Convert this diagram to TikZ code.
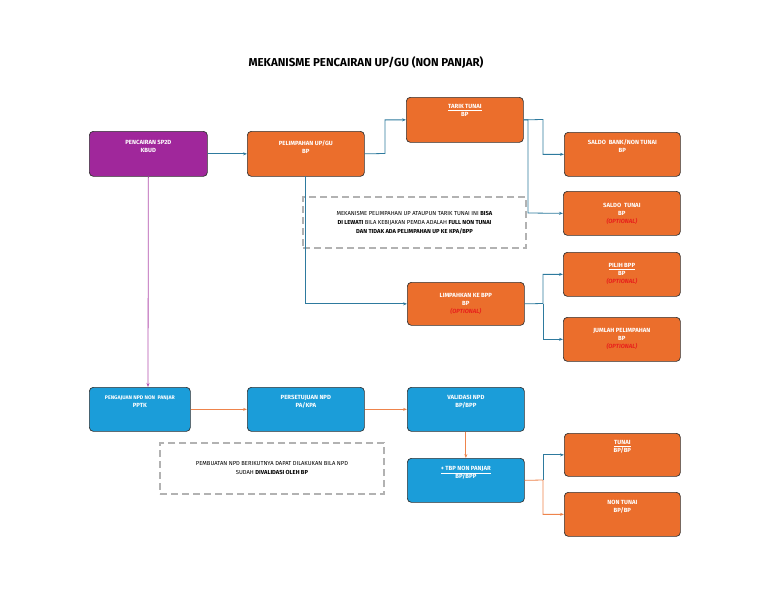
\documentclass[tikz,border=0pt]{standalone}
\usepackage{fontspec}
\setmainfont{Fira Sans}
\usetikzlibrary{arrows.meta}
\definecolor{org}{HTML}{EB6E2C}
\definecolor{blu}{HTML}{1B9DD9}
\definecolor{pur}{HTML}{A0279B}
\definecolor{ln}{HTML}{2E7A9E}
\definecolor{opt}{HTML}{E8231C}
\begin{document}
\begin{tikzpicture}[x=1pt,y=-1pt,
 box/.style={draw=black!80,line width=0.7pt,rounded corners=4pt,anchor=north west,inner sep=0pt,align=center,text=white,font=\fontsize{6}{8}\selectfont\bfseries},
 ob/.style={box,fill=org},
 bb/.style={box,fill=blu},
 note/.style={draw=gray!60,dashed,dash pattern=on 7pt off 4pt,line width=2pt,anchor=north west,inner sep=0pt,align=center,font=\fontsize{5.8}{9}\selectfont},
 c/.style={draw=ln,line width=0.8pt,-{Stealth[length=4pt]}},
 co/.style={draw=org!85,line width=0.8pt,-{Stealth[length=4pt]}},
 op/.style={text=opt,font=\fontsize{6}{8}\selectfont\bfseries\itshape}]
\useasboundingbox (0,0) rectangle (768,594);
\fill[white] (0,0) rectangle (768,594);
\node[font=\fontsize{11.5}{13}\selectfont\bfseries] (title) at (366,63) {MEKANISME PENCAIRAN UP/GU (NON PANJAR)};
\node[box,fill=pur,minimum width=118pt,minimum height=45pt] (kbud) at (89,131) {PENCAIRAN SP2D\\KBUD\\[6pt]};
\node[ob,minimum width=117pt,minimum height=45pt] (pel) at (247,131) {PELIMPAHAN UP/GU\\BP\\[6pt]};
\node[ob,minimum width=117pt,minimum height=45pt] (tarik) at (406,97) {\underline{TARIK TUNAI}\\BP\\[10pt]};
\node[ob,minimum width=116pt,minimum height=44pt] (sbank) at (564,132) {SALDO\ \ BANK/NON TUNAI\\BP\\[8pt]};
\node[ob,minimum width=117pt,minimum height=44pt] (stunai) at (563,191) {SALDO\ \ TUNAI\\BP\\{\color{opt}\itshape(OPTIONAL)}};
\node[note,minimum width=223pt,minimum height=51pt] (n1) at (302,196) {MEKANISME PELIMPAHAN UP ATAUPUN TARIK TUNAI INI \textbf{BISA}\\\textbf{DI LEWATI} BILA KEBIJAKAN PEMDA ADALAH \textbf{FULL NON TUNAI}\\\textbf{DAN TIDAK ADA PELIMPAHAN UP KE KPA/BPP}};
\node[ob,minimum width=117pt,minimum height=43pt] (limp) at (407,282) {LIMPAHKAN KE BPP\\BP\\{\color{opt}\itshape(OPTIONAL)}};
\node[ob,minimum width=117pt,minimum height=44pt] (pilih) at (563,252) {\underline{PILIH BPP}\\BP\\{\color{opt}\itshape(OPTIONAL)}};
\node[ob,minimum width=117pt,minimum height=44pt] (jml) at (563,317) {JUMLAH PELIMPAHAN\\BP\\{\color{opt}\itshape(OPTIONAL)}};
\node[bb,minimum width=101pt,minimum height=44pt,font=\fontsize{5.2}{8}\selectfont\bfseries] (peng) at (89,387) {PENGAJUAN NPD NON\ \ PANJAR\\{\fontsize{6}{8}\selectfont PPTK}\\[8pt]};
\node[bb,minimum width=117pt,minimum height=44pt] (pers) at (247,387) {PERSETUJUAN NPD\\PA/KPA\\[8pt]};
\node[bb,minimum width=117pt,minimum height=44pt] (val) at (407,387) {VALIDASI NPD\\BP/BPP\\[8pt]};
\node[note,minimum width=224pt,minimum height=51pt] (n2) at (159,442) {PEMBUATAN NPD BERIKUTNYA DAPAT DILAKUKAN BILA NPD\\SUDAH \textbf{DIVALIDASI OLEH BP}};
\node[bb,minimum width=117pt,minimum height=44pt] (tbp) at (407,458) {\underline{+ TBP NON PANJAR}\\BP/BPP\\[8pt]};
\node[ob,minimum width=116pt,minimum height=43pt] (tun) at (564,433) {\underline{TUNAI}\\BP/BP\\[8pt]};
\node[ob,minimum width=116pt,minimum height=44pt] (ntun) at (564,492) {NON TUNAI\\BP/BP\\[8pt]};
% connectors
\draw[c] (kbud) -- (pel);
\draw[c] (pel.east) -- (385,153.5) |- (tarik.west);
\draw[c] (tarik.east) -- (543,119.5) |- (sbank.west);
\draw[c] (tarik.east) ++(0,0) -| (528,213) -- (stunai.west);
\draw[c] (305,176) |- (limp.west);
\draw[c] (limp.east) -- (543,303.5) |- (pilih.west);
\draw[c] (543,303.5) |- (jml.west);
\draw[draw=pur!80,line width=0.8pt,-{Stealth[length=4pt]}] (kbud.south) -- (148,387);
\draw[co] (peng) -- (pers);
\draw[co] (pers) -- (val);
\draw[co] (val) -- (tbp);
\draw[co] (tbp.east) -- (543,480) |- (ntun.west);
\draw[c] (543,480) |- (tun.west);
\end{tikzpicture}
\end{document}
